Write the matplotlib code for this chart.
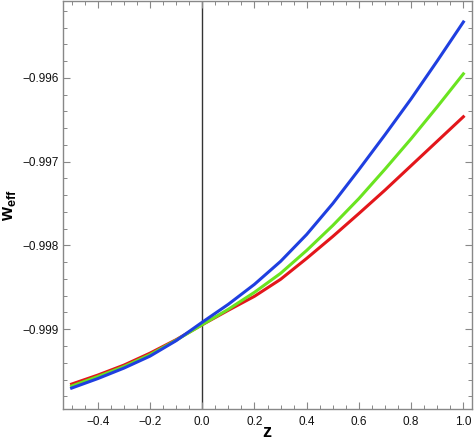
import matplotlib
matplotlib.use("Agg")
import matplotlib.pyplot as plt
from matplotlib.ticker import MultipleLocator

z = [-0.5, -0.4, -0.3, -0.2, -0.1, 0.0, 0.1, 0.2, 0.3, 0.4, 0.5, 0.6, 0.7, 0.8, 0.9, 1.0]

w_red = [-0.9996548, -0.9995476, -0.9994286, -0.9992857, -0.9991250, -0.9989464,
         -0.9987738, -0.9986071, -0.9984048, -0.9981548, -0.9978929, -0.9976190,
         -0.9973393, -0.9970476, -0.9967560, -0.9964643]
w_green = [-0.9996786, -0.9995655, -0.9994464, -0.9993036, -0.9991310, -0.9989464,
           -0.9987619, -0.9985595, -0.9983333, -0.9980595, -0.9977619, -0.9974405,
           -0.9970893, -0.9967262, -0.9963452, -0.9959524]
w_blue = [-0.9997024, -0.9995893, -0.9994643, -0.9993214, -0.9991369, -0.9989167,
          -0.9987024, -0.9984643, -0.9981905, -0.9978690, -0.9975000, -0.9970952,
          -0.9966786, -0.9962500, -0.9957976, -0.9953333]

xticks = [-0.4, -0.2, 0.0, 0.2, 0.4, 0.6, 0.8, 1.0]
xticklabels = ["\u22120.4", "\u22120.2", "0.0", "0.2", "0.4", "0.6", "0.8", "1.0"]
yticks = [-0.999, -0.998, -0.997, -0.996]
yticklabels = ["\u22120.999", "\u22120.998", "\u22120.997", "\u22120.996"]

plt.rcParams['font.family'] = ['Liberation Sans', 'DejaVu Sans']
plt.rcParams['mathtext.fontset'] = 'custom'
plt.rcParams['mathtext.bf'] = 'Liberation Sans:bold'
plt.rcParams['mathtext.rm'] = 'Liberation Sans'

fig = plt.figure(figsize=(4.74, 4.42), dpi=100)
ax = fig.add_axes([63/474, 1 - 409/442, 409/474, 408/442])

ax.axvline(0.0, color='#333333', lw=1.0, zorder=1)
ax.plot(z, w_red, color='#e3161b', lw=2.2, zorder=2, solid_joinstyle='round')
ax.plot(z, w_green, color='#6ae420', lw=2.2, zorder=3, solid_joinstyle='round')
ax.plot(z, w_blue, color='#1f3fe0', lw=2.2, zorder=4, solid_joinstyle='round')

ax.set_xlim(-0.533, 1.033)
ax.set_ylim(-0.999952, -0.995083)

ax.set_xticks(xticks)
ax.set_xticklabels(xticklabels)
ax.set_yticks(yticks)
ax.set_yticklabels(yticklabels)
ax.xaxis.set_minor_locator(MultipleLocator(0.05))
ax.yaxis.set_minor_locator(MultipleLocator(0.0002))

for sp in ax.spines.values():
    sp.set_color('#888888')
    sp.set_linewidth(1.0)

ax.tick_params(which='both', direction='in', top=True, right=True, color='#888888',
               labelsize=8.5, labelcolor='#111111')
ax.tick_params(which='major', length=5, width=0.8)
ax.tick_params(which='minor', length=3, width=0.7)
ax.tick_params(axis='x', pad=5)
ax.tick_params(axis='y', pad=3)

ax.set_xlabel(r'$\mathbf{z}$', fontsize=13, labelpad=-3)
ax.set_ylabel(r'$\mathbf{w}_{\mathbf{eff}}$', fontsize=13, labelpad=3)

fig.savefig('out.png', dpi=100)
